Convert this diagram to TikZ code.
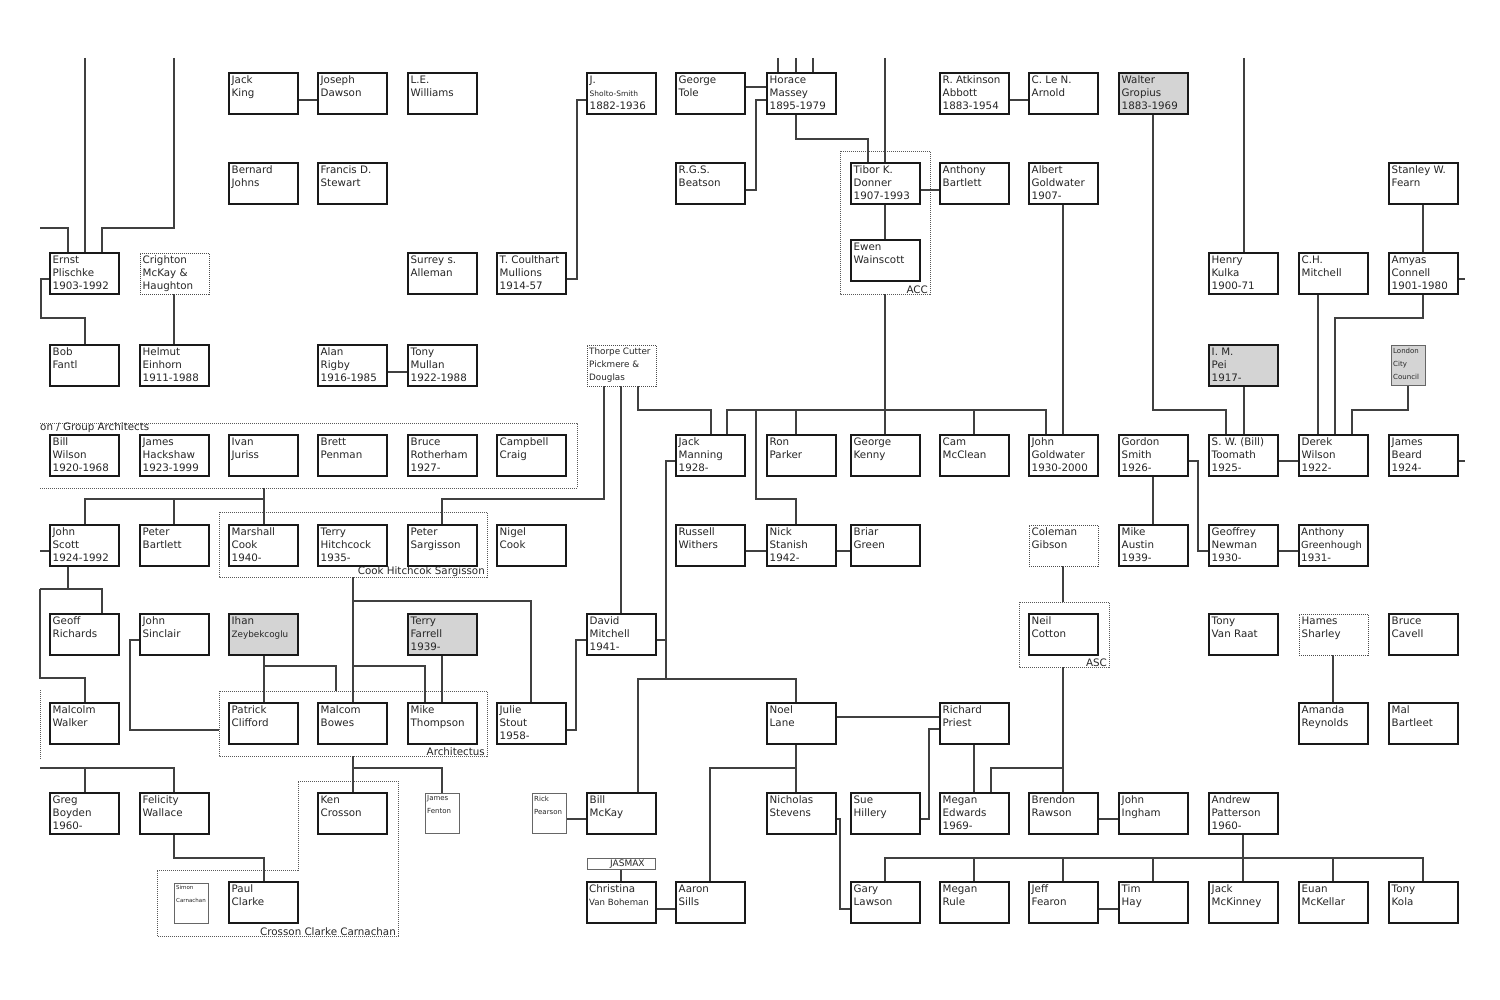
\documentclass[tikz,border=0pt]{standalone}
\usepackage{fontspec}
\setmainfont{DejaVu Sans}
\begin{document}
\begin{tikzpicture}[x=1pt,y=-1pt,
  box/.style={draw=black!90,line width=2.2pt,fill=white,minimum width=69pt,minimum height=41pt,inner sep=0pt,outer sep=0pt},
  gbox/.style={box,fill=black!17},
  dbox/.style={draw=black!70,line width=0.8pt,dash pattern=on 1pt off 1pt,fill=white,minimum width=69pt,minimum height=41pt,inner sep=0pt,outer sep=0pt},
  sbox/.style={draw=black!60,line width=0.8pt,fill=white,minimum width=34pt,minimum height=40pt,inner sep=0pt,outer sep=0pt},
  sgbox/.style={sbox,fill=black!17},
  grp/.style={draw=black!65,line width=0.8pt,dash pattern=on 1pt off 1pt},
  txt/.style={inner sep=0pt,align=left,font=\fontsize{10.3}{13.2}\selectfont,text=black!85},
  stxt/.style={inner sep=0pt,align=left,font=\fontsize{7}{13}\selectfont,text=black!85},
  glbl/.style={inner sep=0pt,font=\fontsize{10.3}{11}\selectfont,text=black!85},
  ln/.style={draw=black!75,line width=1.1pt}]
\useasboundingbox[fill=white] (0,0) rectangle (1500,1000);
\newcommand\bx[5][box]{\node[#1,anchor=north west] (#2) at (#3,#4) {};
  \node[txt,anchor=north west] at ([shift={(2.5,2.5)}]#2.north west) {#5};}
\newcommand\sbx[5][sbox]{\node[#1,anchor=north west] (#2) at (#3,#4) {};
  \node[stxt,anchor=north west] at ([shift={(2,2.5)}]#2.north west) {#5};}
% group boxes
\draw[grp] (40,423) -- (577,423) -- (577,488) -- (40,488);
\node[glbl,anchor=north west] at (40,422.5) {on / Group Architects};
\draw[grp] (219,512) rectangle (487,577);
\node[glbl,anchor=south east] at (485,577) {Cook Hitchcok Sargisson};
\draw[grp] (219,691) rectangle (487,756);
\node[glbl,anchor=south east] at (485,756) {Architectus};
\draw[grp] (840,151) rectangle (930,294);
\node[glbl,anchor=south east] at (928,294) {ACC};
\draw[grp] (1019,602) rectangle (1109,667);
\node[glbl,anchor=south east] at (1107,667) {ASC};
\draw[grp] (298,781) -- (398,781) -- (398,936) -- (157,936) -- (157,870) -- (298,870) -- cycle;
\node[glbl,anchor=south east] at (396,936) {Crosson Clarke Carnachan};
\draw[grp] (40,690) -- (40,760);
% connectors first
\draw[ln] (85,58) -- (85,253);
\draw[ln] (174,58) |- (102,228) -- (102,253);
\draw[ln] (40,228) -| (68,253);
\draw[ln] (50,279) -- (41,279) |- (85,318) -- (85,345);
\draw[ln] (174,294) -- (174,345);
\draw[ln] (298,100) -- (318,100);
\draw[ln] (387,372) -- (408,372);
\draw[ln] (587,100) -- (577,100) |- (566,279);
\draw[ln] (745,87) -- (767,87);
\draw[ln] (745,190) -- (756,190) |- (767,100);
\foreach \x in {778,796,813} \draw[ln] (\x,58) -- (\x,73);
\draw[ln] (796,114) |- (868,139) -- (868,163);
\draw[ln] (885,58) -- (885,163);
\draw[ln] (919,190) -- (940,190);
\draw[ln] (885,204) -- (885,240);
\draw[ln] (885,294) -- (885,435);
\draw[ln] (1009,100) -- (1029,100);
\draw[ln] (1063,204) -- (1063,435);
\draw[ln] (1153,114) |- (1226,410) -- (1226,435);
\draw[ln] (1244,58) -- (1244,253);
\draw[ln] (1244,386) -- (1244,435);
\draw[ln] (1318,294) -- (1318,435);
\draw[ln] (1423,204) -- (1423,253);
\draw[ln] (1423,294) |- (1335,318) -- (1335,435);
\draw[ln] (1408,386) |- (1352,410) -- (1352,435);
\draw[ln] (1458,279) -- (1465,279);
\draw[ln] (1458,461) -- (1465,461);
\draw[ln] (1278,461) -- (1299,461);
\draw[ln] (1188,461) -- (1198,461) |- (1209,551);
\draw[ln] (1153,476) -- (1153,525);
\draw[ln] (1278,551) -- (1299,551);
\draw[ln] (1333,655) -- (1333,703);
\draw[ln] (604,386) |- (442,499) -- (442,525);
\draw[ln] (621,386) -- (621,614);
\draw[ln] (638,386) |- (711,410) -- (711,435);
\draw[ln] (727,435) |- (1046,410) -- (1046,435);
\draw[ln] (796,410) -- (796,435);
\draw[ln] (974,410) -- (974,435);
\draw[ln] (756,410) |- (796,499) -- (796,525);
\draw[ln] (676,461) -- (666,461) -- (666,679);
\draw[ln] (656,640) -- (666,640);
\draw[ln] (638,793) |- (796,679) -- (796,703);
\draw[ln] (566,730) -- (576,730) |- (587,640);
\draw[ln] (745,551) -- (767,551);
\draw[ln] (836,551) -- (851,551);
\draw[ln] (836,717) -- (940,717);
\draw[ln] (796,744) -- (796,793);
\draw[ln] (796,768) -| (710,882);
\draw[ln] (919,819) -- (929,819) |- (940,729);
\draw[ln] (974,744) -- (974,793);
\draw[ln] (1063,566) -- (1063,602);
\draw[ln] (1063,667) -- (1063,793);
\draw[ln] (1063,768) -| (991,793);
\draw[ln] (836,819) -- (840,819) |- (851,909);
\draw[ln] (1098,819) -- (1119,819);
\draw[ln] (1098,909) -- (1119,909);
\draw[ln] (1243,834) -- (1243,882);
\draw[ln] (885,882) |- (1423,858) -- (1423,882);
\foreach \x in {974,1063,1153,1333} \draw[ln] (\x,858) -- (\x,882);
\draw[ln] (656,909) -- (676,909);
\draw[ln] (621,869) -- (621,882);
\draw[ln] (566,819) -- (587,819);
\draw[ln] (264,488) -- (264,525);
\draw[ln] (85,525) |- (264,499);
\draw[ln] (174,499) -- (174,525);
\draw[ln] (40,551) -- (50,551);
\draw[ln] (68,566) -- (68,589);
\draw[ln] (40,589) -| (102,614);
\draw[ln] (40,589) -- (40,678) -| (85,703);
\draw[ln] (140,640) -- (130,640) |- (219,730);
\draw[ln] (353,577) -- (353,703);
\draw[ln] (353,601) -| (531,703);
\draw[ln] (264,655) -- (264,703);
\draw[ln] (264,666) -| (336,691);
\draw[ln] (353,666) -| (425,703);
\draw[ln] (442,655) -- (442,703);
\draw[ln] (40,768) -| (174,793);
\draw[ln] (85,768) -- (85,793);
\draw[ln] (174,833) |- (264,858) -- (264,882);
\draw[ln] (353,756) -- (353,793);
\draw[ln] (353,768) -| (442,793);
% row 0
\bx{jking}{229}{73}{Jack\\King}
\bx{jdawson}{318}{73}{Joseph\\Dawson}
\bx{lew}{408}{73}{L.E.\\Williams}
\node[box,anchor=north west] (sholto) at (587,73) {};
\node[txt,anchor=north west] at (589.5,75.5) {J.\\{\fontsize{7.5}{13}\selectfont Sholto-Smith}\\1882-1936};
\bx{tole}{676}{73}{George\\Tole}
\bx{massey}{767}{73}{Horace\\Massey\\1895-1979}
\bx{abbott}{940}{73}{R. Atkinson\\Abbott\\1883-1954}
\bx{arnold}{1029}{73}{C. Le N.\\Arnold}
\bx[gbox]{gropius}{1119}{73}{Walter\\Gropius\\1883-1969}
% row 1
\bx{bjohns}{229}{163}{Bernard\\Johns}
\bx{fstewart}{318}{163}{Francis D.\\Stewart}
\bx{beatson}{676}{163}{R.G.S.\\Beatson}
\bx{donner}{851}{163}{Tibor K.\\Donner\\1907-1993}
\bx{abartlett}{940}{163}{Anthony\\Bartlett}
\bx{agold}{1029}{163}{Albert\\Goldwater\\1907-}
\bx{fearn}{1389}{163}{Stanley W.\\Fearn}
\bx{wainscott}{851}{240}{Ewen\\Wainscott}
% row 2
\bx{plischke}{50}{253}{Ernst\\Plischke\\1903-1992}
\bx[dbox]{crighton}{140}{253}{Crighton\\McKay \&\\Haughton}
\bx{alleman}{408}{253}{Surrey s.\\Alleman}
\bx{mullions}{497}{253}{T. Coulthart\\Mullions\\1914-57}
\bx{kulka}{1209}{253}{Henry\\Kulka\\1900-71}
\bx{chmitchell}{1299}{253}{C.H.\\Mitchell}
\bx{connell}{1389}{253}{Amyas\\Connell\\1901-1980}
% row 3
\bx{fantl}{50}{345}{Bob\\Fantl}
\bx{einhorn}{140}{345}{Helmut\\Einhorn\\1911-1988}
\bx{rigby}{318}{345}{Alan\\Rigby\\1916-1985}
\bx{mullan}{408}{345}{Tony\\Mullan\\1922-1988}
\node[dbox,anchor=north west] (thorpe) at (587,345) {};
\node[txt,anchor=north west] at (589,347.5) {\fontsize{8.8}{13}\selectfont Thorpe Cutter\\\fontsize{8.8}{13}\selectfont Pickmere \&\\\fontsize{8.8}{13}\selectfont Douglas};
\bx[gbox]{pei}{1209}{345}{I. M.\\Pei\\1917-}
\sbx[sgbox]{lcc}{1391}{345}{London\\City\\Council}
% row 4
\bx{bwilson}{50}{435}{Bill\\Wilson\\1920-1968}
\bx{hackshaw}{140}{435}{James\\Hackshaw\\1923-1999}
\bx{juriss}{229}{435}{Ivan\\Juriss}
\bx{penman}{318}{435}{Brett\\Penman}
\bx{rotherham}{408}{435}{Bruce\\Rotherham\\1927-}
\bx{craig}{497}{435}{Campbell\\Craig}
\bx{manning}{676}{435}{Jack\\Manning\\1928-}
\bx{parker}{767}{435}{Ron\\Parker}
\bx{kenny}{851}{435}{George\\Kenny}
\bx{mcclean}{940}{435}{Cam\\McClean}
\bx{jgold}{1029}{435}{John\\Goldwater\\1930-2000}
\bx{gsmith}{1119}{435}{Gordon\\Smith\\1926-}
\bx{toomath}{1209}{435}{S. W. (Bill)\\Toomath\\1925-}
\bx{dwilson}{1299}{435}{Derek\\Wilson\\1922-}
\bx{beard}{1389}{435}{James\\Beard\\1924-}
% row 5
\bx{jscott}{50}{525}{John\\Scott\\1924-1992}
\bx{pbartlett}{140}{525}{Peter\\Bartlett}
\bx{mcook}{229}{525}{Marshall\\Cook\\1940-}
\bx{hitchcock}{318}{525}{Terry\\Hitchcock\\1935-}
\bx{sargisson}{408}{525}{Peter\\Sargisson}
\bx{ncook}{497}{525}{Nigel\\Cook}
\bx{withers}{676}{525}{Russell\\Withers}
\bx{stanish}{767}{525}{Nick\\Stanish\\1942-}
\bx{green}{851}{525}{Briar\\Green}
\bx[dbox]{coleman}{1029}{525}{Coleman\\Gibson}
\bx{austin}{1119}{525}{Mike\\Austin\\1939-}
\bx{newman}{1209}{525}{Geoffrey\\Newman\\1930-}
\node[box,anchor=north west] (greenhough) at (1299,525) {};
\node[txt,anchor=north west] at (1301,527.5) {Anthony\\{\fontsize{9.8}{13.2}\selectfont Greenhough}\\1931-};
% row 6
\bx{richards}{50}{614}{Geoff\\Richards}
\bx{sinclair}{140}{614}{John\\Sinclair}
\node[gbox,anchor=north west] (ihan) at (229,614) {};
\node[txt,anchor=north west] at (231.5,616.5) {Ihan\\{\fontsize{8.8}{13.2}\selectfont Zeybekcoglu}};
\bx[gbox]{farrell}{408}{614}{Terry\\Farrell\\1939-}
\bx{dmitchell}{587}{614}{David\\Mitchell\\1941-}
\bx{cotton}{1029}{614}{Neil\\Cotton}
\bx{vanraat}{1209}{614}{Tony\\Van Raat}
\bx[dbox]{sharley}{1299}{614}{Hames\\Sharley}
\bx{cavell}{1389}{614}{Bruce\\Cavell}
% row 7
\bx{walker}{50}{703}{Malcolm\\Walker}
\bx{clifford}{229}{703}{Patrick\\Clifford}
\bx{bowes}{318}{703}{Malcom\\Bowes}
\bx{thompson}{408}{703}{Mike\\Thompson}
\bx{stout}{497}{703}{Julie\\Stout\\1958-}
\bx{lane}{767}{703}{Noel\\Lane}
\bx{priest}{940}{703}{Richard\\Priest}
\bx{reynolds}{1299}{703}{Amanda\\Reynolds}
\bx{bartleet}{1389}{703}{Mal\\Bartleet}
% row 8
\bx{boyden}{50}{793}{Greg\\Boyden\\1960-}
\bx{wallace}{140}{793}{Felicity\\Wallace}
\bx{crosson}{318}{793}{Ken\\Crosson}
\sbx{fenton}{425}{793}{James\\Fenton}
\sbx{pearson}{532}{793}{Rick\\Pearson}
\bx{mckay}{587}{793}{Bill\\McKay}
\bx{stevens}{767}{793}{Nicholas\\Stevens}
\bx{hillery}{851}{793}{Sue\\Hillery}
\bx{edwards}{940}{793}{Megan\\Edwards\\1969-}
\bx{rawson}{1029}{793}{Brendon\\Rawson}
\bx{ingham}{1119}{793}{John\\Ingham}
\bx{patterson}{1209}{793}{Andrew\\Patterson\\1960-}
% row 9
\node[draw=black!60,line width=0.8pt,fill=white,minimum width=68pt,minimum height=11pt,inner sep=0pt,anchor=north west] (jasmax) at (587,858) {};
\node[txt,font=\fontsize{9}{10}\selectfont] at ([xshift=6pt]jasmax.center) {JASMAX};
\sbx{carnachan}{174}{883}{{\fontsize{5.5}{13}\selectfont Simon}\\{\fontsize{5.5}{13}\selectfont Carnachan}}
\bx{clarke}{229}{882}{Paul\\Clarke}
\node[box,anchor=north west] (christina) at (587,882) {};
\node[txt,anchor=north west] at (589,884.5) {Christina\\{\fontsize{8.6}{13.2}\selectfont Van Boheman}};
\bx{sills}{676}{882}{Aaron\\Sills}
\bx{lawson}{851}{882}{Gary\\Lawson}
\bx{rule}{940}{882}{Megan\\Rule}
\bx{fearon}{1029}{882}{Jeff\\Fearon}
\bx{hay}{1119}{882}{Tim\\Hay}
\bx{mckinney}{1209}{882}{Jack\\McKinney}
\bx{mckellar}{1299}{882}{Euan\\McKellar}
\bx{kola}{1389}{882}{Tony\\Kola}
\end{tikzpicture}
\end{document}
